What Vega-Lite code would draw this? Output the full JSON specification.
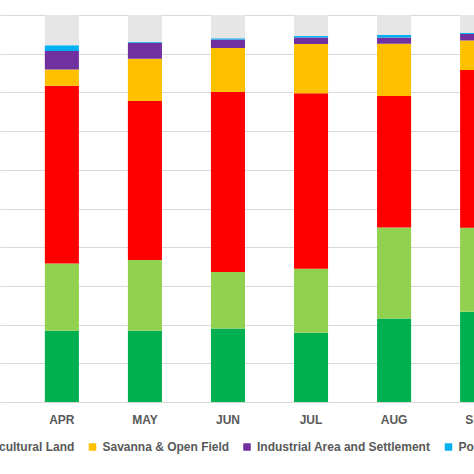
{
  "$schema": "https://vega.github.io/schema/vega-lite/v6.json",
  "autosize": {"type": "none"},
  "width": 474,
  "height": 387,
  "padding": {"left": 0, "top": 15, "right": 0, "bottom": 72},
  "background": "white",
  "config": {"view": {"stroke": null}, "font": "Liberation Sans"},
  "data": {"values": [
    {"month": "APR", "cls": "Forest", "pct": 18.4},
    {"month": "APR", "cls": "Shrubland", "pct": 17.4},
    {"month": "APR", "cls": "Agricultural Land", "pct": 45.9},
    {"month": "APR", "cls": "Savanna & Open Field", "pct": 4.2},
    {"month": "APR", "cls": "Industrial Area and Settlement", "pct": 4.8},
    {"month": "APR", "cls": "Pond", "pct": 1.5},
    {"month": "APR", "cls": "Cloud", "pct": 7.8},
    {"month": "MAY", "cls": "Forest", "pct": 18.4},
    {"month": "MAY", "cls": "Shrubland", "pct": 18.3},
    {"month": "MAY", "cls": "Agricultural Land", "pct": 41.1},
    {"month": "MAY", "cls": "Savanna & Open Field", "pct": 10.9},
    {"month": "MAY", "cls": "Industrial Area and Settlement", "pct": 4.1},
    {"month": "MAY", "cls": "Pond", "pct": 0.2},
    {"month": "MAY", "cls": "Cloud", "pct": 7.0},
    {"month": "JUN", "cls": "Forest", "pct": 19.0},
    {"month": "JUN", "cls": "Shrubland", "pct": 14.6},
    {"month": "JUN", "cls": "Agricultural Land", "pct": 46.5},
    {"month": "JUN", "cls": "Savanna & Open Field", "pct": 11.4},
    {"month": "JUN", "cls": "Industrial Area and Settlement", "pct": 2.2},
    {"month": "JUN", "cls": "Pond", "pct": 0.3},
    {"month": "JUN", "cls": "Cloud", "pct": 6.0},
    {"month": "JUL", "cls": "Forest", "pct": 17.9},
    {"month": "JUL", "cls": "Shrubland", "pct": 16.5},
    {"month": "JUL", "cls": "Agricultural Land", "pct": 45.4},
    {"month": "JUL", "cls": "Savanna & Open Field", "pct": 12.7},
    {"month": "JUL", "cls": "Industrial Area and Settlement", "pct": 1.7},
    {"month": "JUL", "cls": "Pond", "pct": 0.4},
    {"month": "JUL", "cls": "Cloud", "pct": 5.4},
    {"month": "AUG", "cls": "Forest", "pct": 21.6},
    {"month": "AUG", "cls": "Shrubland", "pct": 23.5},
    {"month": "AUG", "cls": "Agricultural Land", "pct": 34.0},
    {"month": "AUG", "cls": "Savanna & Open Field", "pct": 13.5},
    {"month": "AUG", "cls": "Industrial Area and Settlement", "pct": 1.6},
    {"month": "AUG", "cls": "Pond", "pct": 0.6},
    {"month": "AUG", "cls": "Cloud", "pct": 5.2},
    {"month": "SEP", "cls": "Forest", "pct": 23.3},
    {"month": "SEP", "cls": "Shrubland", "pct": 21.7},
    {"month": "SEP", "cls": "Agricultural Land", "pct": 40.8},
    {"month": "SEP", "cls": "Savanna & Open Field", "pct": 7.6},
    {"month": "SEP", "cls": "Industrial Area and Settlement", "pct": 1.7},
    {"month": "SEP", "cls": "Pond", "pct": 0.3},
    {"month": "SEP", "cls": "Cloud", "pct": 4.6}
  ]},
  "transform": [
    {"calculate": "indexof(['Forest', 'Shrubland', 'Agricultural Land', 'Savanna & Open Field', 'Industrial Area and Settlement', 'Pond', 'Cloud'], datum.cls)", "as": "stackOrder"}
  ],
  "mark": {"type": "bar", "strokeWidth": 0},
  "encoding": {
    "x": {
      "field": "month", "type": "nominal",
      "sort": ["APR", "MAY", "JUN", "JUL", "AUG", "SEP"],
      "scale": {"range": [0, 539], "paddingInner": 0.59, "paddingOuter": 0.54},
      "axis": {
        "title": null, "labelAngle": 0, "ticks": false,
        "domainColor": "#D9D9D9", "domainWidth": 1,
        "labelFontSize": 12, "labelFontWeight": "bold", "labelColor": "#595959",
        "labelPadding": 12
      }
    },
    "y": {
      "field": "pct", "type": "quantitative", "stack": "zero",
      "scale": {"domain": [0, 100], "nice": false},
      "axis": {
        "title": null, "labels": false, "ticks": false, "domain": false,
        "values": [0, 10, 20, 30, 40, 50, 60, 70, 80, 90, 100],
        "gridColor": "#D9D9D9", "gridWidth": 1
      }
    },
    "order": {"field": "stackOrder", "type": "quantitative", "sort": "ascending"},
    "color": {
      "field": "cls", "type": "nominal",
      "sort": ["Forest", "Shrubland", "Agricultural Land", "Savanna & Open Field", "Industrial Area and Settlement", "Pond", "Cloud"],
      "scale": {
        "domain": ["Forest", "Shrubland", "Agricultural Land", "Savanna & Open Field", "Industrial Area and Settlement", "Pond", "Cloud"],
        "range": ["#00B050", "#92D050", "#FF0000", "#FFC000", "#7030A0", "#00B0F0", "#E6E6E6"]
      },
      "legend": {
        "title": null, "orient": "none", "direction": "horizontal",
        "legendX": -193, "legendY": 426,
        "symbolType": "square", "symbolSize": 56, "symbolStrokeWidth": 0,
        "labelFontSize": 12, "labelFontWeight": "bold", "labelColor": "#595959",
        "labelOffset": 4, "columnPadding": 11.5, "labelLimit": 400
      }
    }
  }
}
